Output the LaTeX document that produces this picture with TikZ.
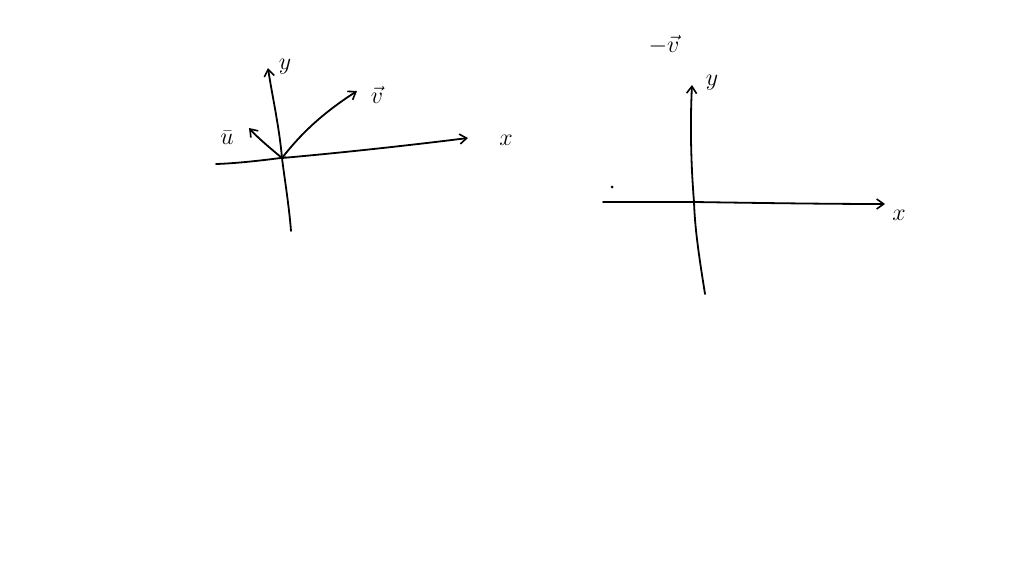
\RequirePackage{fix-cm}
\documentclass[tikz,border=0pt]{standalone}
\usetikzlibrary{arrows.meta}
\begin{document}
\begin{tikzpicture}[x=1pt,y=-1pt,
  pen/.style={line width=1.8pt,line cap=round,line join=round,black},
  arr/.style={pen,-{Straight Barb[length=7pt,width=10pt,line width=1.6pt]}},
  lab/.style={inner sep=0pt,font=\fontsize{24}{26}\selectfont}]
\useasboundingbox (0,0) rectangle (1024,576);
\fill[white] (0,0) rectangle (1024,576);
% left diagram
\coordinate (O1) at (282,158);
\coordinate (x1s) at (216,164);
\coordinate (x1e) at (468,138);
\coordinate (y1s) at (291,231);
\coordinate (y1e) at (268,68);
\coordinate (v1e) at (357,91);
\coordinate (u1e) at (249,128);
\draw[arr] (x1s) .. controls (250,163) and (300,155) .. (O1) .. controls (350,152) and (420,144) .. (x1e);
\draw[arr] (y1s) .. controls (289,205) and (284,175) .. (O1) .. controls (279,125) and (272,95) .. (y1e);
\draw[arr] (O1) .. controls (300,135) and (320,115) .. (v1e);
\draw[arr] (O1) .. controls (270,148) and (258,138) .. (u1e);
\node[lab] (ly1) at (285,67) {$y$};
\node[lab] (lv1) at (377,95) {$\vec{v}$};
\node[lab] (lu1) at (227,138) {$\bar{u}$};
\node[lab] (lx1) at (506,140) {$x$};
% right diagram
\coordinate (O2) at (694,202);
\coordinate (x2s) at (603,202);
\coordinate (x2e) at (885,204);
\coordinate (y2s) at (705,294);
\coordinate (y2e) at (692,85);
\draw[arr] (x2s) -- (O2) .. controls (760,203) and (830,204) .. (x2e);
\draw[arr] (y2s) .. controls (700,262) and (695,232) .. (O2) .. controls (691,165) and (690,125) .. (y2e);
\node[lab] (ly2) at (712,83) {$y$};
\node[lab] (lv2) at (664,45) {$-\vec{v}$};
\node[lab] (lx2) at (899,215) {$x$};
\fill (612,187) circle (1.5pt);
\end{tikzpicture}
\end{document}
